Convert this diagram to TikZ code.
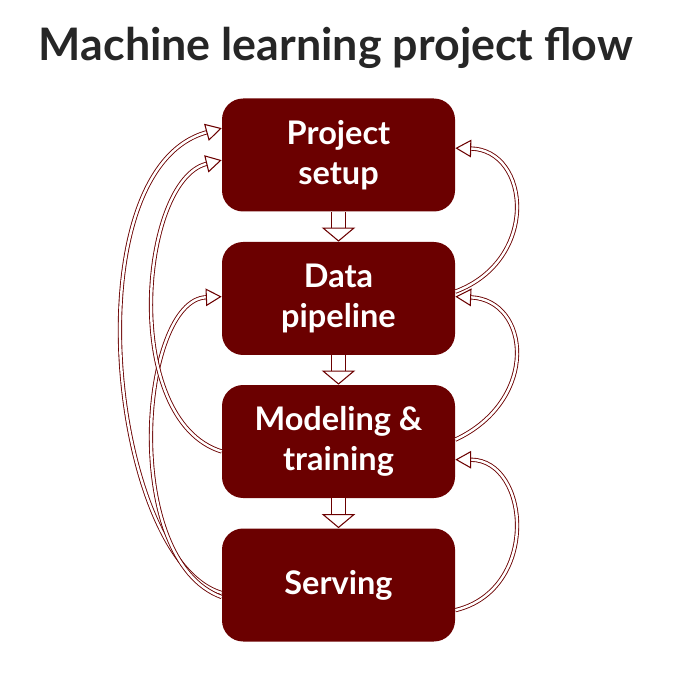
\documentclass[tikz,border=0pt]{standalone}
\usepackage{fontspec}
\setmainfont{Lato}
\usetikzlibrary{arrows.meta, positioning}
\definecolor{mlred}{HTML}{6B0000}
\newlength\px \setlength\px{0.02cm}
\tikzset{
  stage/.style={rectangle, rounded corners=12pt, fill=mlred, text=white, font=\bfseries\fontsize{18.5}{22.5}\selectfont, minimum width=233\px, minimum height=113\px, align=center},
  flow/.style={draw=mlred, double=white, double distance=1.4pt, line width=0.5pt, -{Triangle[open, length=9pt, width=10pt, line width=0.6pt]}},
  advance/.style={draw=mlred, double=white, double distance=7pt, line width=0.6pt, -{Triangle[open, length=8pt, width=19pt, line width=0.6pt]}}
}
\begin{document}
\begin{tikzpicture}[x=0.02cm, y=-0.02cm]
    \useasboundingbox (0,0) rectangle (672,688);
    % Title
    \node[font=\bfseries\fontsize{25.5}{30}\selectfont, text=black!85] (title) at (336,48) {Machine learning project flow};

    % Stages
    \node[stage] (setup) at (338.5,155) {Project\\setup};
    \node[stage] (data) at (338.5,298.5) {Data\\pipeline};
    \node[stage] (model) at (338.5,441.5) {Modeling \&\\training};
    \node[stage] (serve) at (338.5,585) {Serving};

    % Forward steps
    \draw[advance] (setup) -- (data);
    \draw[advance] (data) -- (model);
    \draw[advance] (model) -- (serve);

    % Feedback, left side
    \draw[flow] ([yshift=-8\px]serve.west) .. controls (110,560) and (70,170) .. ([yshift=-30\px]setup.north west);
    \draw[flow] ([yshift=-12\px]serve.west) .. controls (120,560) and (140,300) .. ([yshift=-55\px]data.north west);
    \draw[flow] ([yshift=-10\px]model.west) .. controls (120,420) and (140,180) .. ([yshift=-62\px]setup.north west);

    % Feedback, right side
    \draw[flow] ([yshift=-50\px]data.north east) .. controls (540,260) and (530,150) .. ([yshift=-50\px]setup.north east);
    \draw[flow] ([yshift=-55\px]model.north east) .. controls (540,400) and (530,300) .. ([yshift=-55\px]data.north east);
    \draw[flow] ([yshift=-82\px]serve.north east) .. controls (540,590) and (530,460) .. ([yshift=-75\px]model.north east);
\end{tikzpicture}
\end{document}
